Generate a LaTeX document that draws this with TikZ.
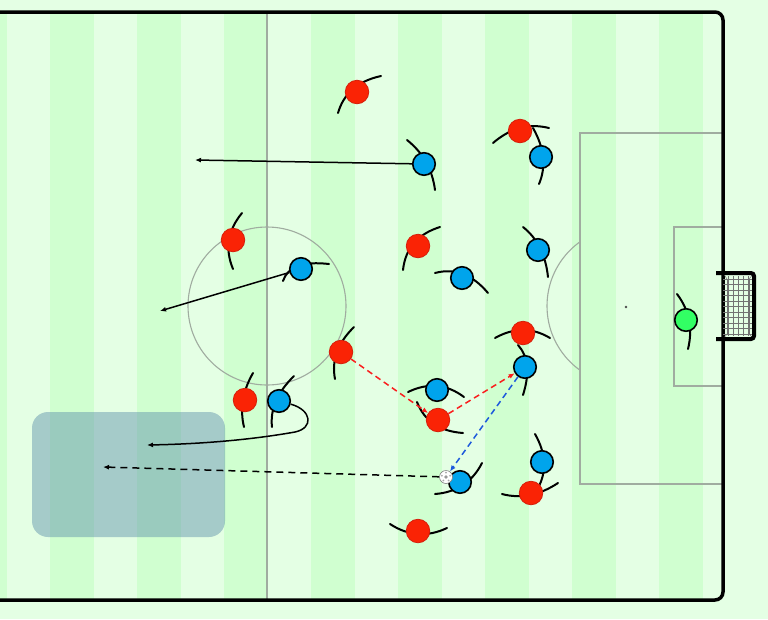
\documentclass[tikz,border=0pt]{standalone}
\usetikzlibrary{arrows.meta,calc}
\definecolor{lightg}{RGB}{228,255,228}
\definecolor{darkg}{RGB}{208,255,208}
\definecolor{pblue}{RGB}{0,164,236}
\definecolor{pred}{RGB}{250,35,5}
\definecolor{predb}{RGB}{215,30,10}
\definecolor{pgreen}{RGB}{50,255,100}
\definecolor{markc}{RGB}{160,172,160}
\definecolor{zone}{RGB}{90,140,170}
\definecolor{passred}{RGB}{250,30,30}
\definecolor{passblue}{RGB}{30,90,220}
\tikzset{
  bluepl/.style={circle, fill=pblue, draw=black, line width=1.6pt, minimum size=22.5pt, inner sep=0pt},
  redpl/.style={circle, fill=pred, draw=predb, line width=0.8pt, minimum size=23.5pt, inner sep=0pt},
  greenpl/.style={circle, fill=pgreen, draw=black, line width=1.6pt, minimum size=22.5pt, inner sep=0pt},
  ballnode/.style={circle, fill=white, draw=gray, line width=0.6pt, minimum size=13pt, inner sep=0pt},
  bodyline/.style={line width=2pt, line cap=round, black},
  markline/.style={draw=markc, line width=1.1pt},
  run/.style={line width=1.5pt, -{Latex[length=6pt,width=5pt]}},
  dribble/.style={line width=1.5pt, dash pattern=on 7pt off 5pt, -{Latex[length=6pt,width=5pt]}},
  passr/.style={line width=1.5pt, passred, dash pattern=on 6pt off 4pt, -{Latex[length=6pt,width=5pt]}},
  passb/.style={line width=1.5pt, passblue, dash pattern=on 6pt off 4pt, -{Latex[length=6pt,width=5pt]}},
}
% smooth (quadratic) body arc from #1 through #2 to #3
\newcommand{\bodyarc}[3]{\draw[bodyline] #1 .. controls ($1.33333*#2-0.33333*#3$) and ($1.33333*#2-0.33333*#1$) .. #3;}
\begin{document}
\begin{tikzpicture}[x=1pt,y=-1pt]
\useasboundingbox (0,0) rectangle (768,619);
\fill[lightg] (0,0) rectangle (768,619);
% stripes
\begin{scope}
  \clip[rounded corners=8] (-20,12) rectangle (723,600);
  \foreach \x in {-37,50,...,659} \fill[darkg] (\x,0) rectangle ++(44,619);
\end{scope}
% markings
\draw[markline] (267,12) -- (267,600);
\draw[markline] (267,306) circle[radius=79];
\draw[markline] (580,133) rectangle (723,484);
\draw[markline] (674,227) rectangle (723,386);
\fill[black!70] (626,307) circle[radius=1.3];
\begin{scope}
  \clip (0,0) rectangle (580,619);
  \draw[markline] (626,306) circle[radius=79];
\end{scope}
% zone
\fill[zone, fill opacity=0.45, rounded corners=16] (32,412) rectangle (225,537);
% border
\draw[line width=3.5pt, rounded corners=8] (-20,12) rectangle (723,600);
% goal net
\begin{scope}[black!55, line width=0.45pt]
  \foreach \x in {728,733,738,743,748} \draw (\x,276) -- (\x,336);
  \foreach \y in {279,284.5,290,295.5,301,306.5,312,317.5,323,328.5,334} \draw (723,\y) -- (753,\y);
  \draw (727,279) rectangle (749,334);
  \draw (723,273) -- (727,279) (754,273) -- (749,279) (723,339) -- (727,334) (754,339) -- (749,334);
\end{scope}
\draw[line width=4pt, rounded corners=3] (716,273) -- (754,273) -- (754,339) -- (716,339);
% body arcs
\bodyarc{(338,113)}{(353,89)}{(381,76)}
\bodyarc{(493,143)}{(520,128)}{(549,128)}
\bodyarc{(242,213)}{(229,240)}{(233,269)}
\bodyarc{(354,327)}{(337,352)}{(335,379)}
\bodyarc{(417,402)}{(434,424)}{(463,433)}
\bodyarc{(495,338)}{(523,330)}{(550,338)}
\bodyarc{(502,494)}{(530,495)}{(558,483)}
\bodyarc{(390,524)}{(418,534)}{(447,528)}
\bodyarc{(253,373)}{(243,400)}{(244,427)}
\bodyarc{(440,227)}{(414,243)}{(403,270)}
\bodyarc{(407,140)}{(426,162)}{(435,190)}
\bodyarc{(533,128)}{(543,157)}{(539,184)}
\bodyarc{(329,264)}{(298,266)}{(283,281)}
\bodyarc{(435,273)}{(463,274)}{(488,293)}
\bodyarc{(408,392)}{(437,386)}{(464,397)}
\bodyarc{(523,227)}{(540,248)}{(548,277)}
\bodyarc{(518,345)}{(527,366)}{(523,395)}
\bodyarc{(482,463)}{(463,485)}{(435,494)}
\bodyarc{(535,434)}{(544,462)}{(538,488)}
\bodyarc{(294,376)}{(276,401)}{(272,427)}
\bodyarc{(677,294)}{(689,320)}{(688,349)}
% players
\node[redpl] (R1) at (357,92) {};
\node[redpl] (R2) at (520,131) {};
\node[redpl] (R3) at (233,240) {};
\node[redpl] (R4) at (341,352) {};
\node[redpl] (R5) at (438,420) {};
\node[redpl] (R6) at (523,333) {};
\node[redpl] (R7) at (531,493) {};
\node[redpl] (R8) at (418,531) {};
\node[redpl] (R9) at (245,400) {};
\node[redpl] (R10) at (418,246) {};
\node[bluepl] (B1) at (424,164) {};
\node[bluepl] (B2) at (541,157) {};
\node[bluepl] (B3) at (301,269) {};
\node[bluepl] (B4) at (462,278) {};
\node[bluepl] (B5) at (437,390) {};
\node[bluepl] (B6) at (538,250) {};
\node[bluepl] (B7) at (525,367) {};
\node[bluepl] (B8) at (460,482) {};
\node[bluepl] (B9) at (542,462) {};
\node[bluepl] (B10) at (279,401) {};
\node[greenpl] (GK) at (686,320) {};
% ball
\node[ballnode] (ball) at (446,477) {};
\fill[gray!80] (ball.center) circle[radius=1.8];
\foreach \a in {90,162,234,306,18} \fill[gray!70] ($(ball.center)+(\a:4.3pt)$) circle[radius=1];
% free ends
\coordinate (a1) at (195,160);
\coordinate (a2) at (160,311);
\coordinate (a3) at (147,445);
\coordinate (a4) at (103,467);
% runs
\draw[run] (B1) -- (a1);
\draw[run] (B3) -- (a2);
\draw[run] (B10.-15) .. controls (312,410) and (314,428) .. (295,432) .. controls (250,440) and (200,444) .. (a3);
\draw[dribble] (ball) -- (a4);
% passes
\draw[passr] (R4) -- (R5);
\draw[passr] (R5) -- (B7);
\draw[passb] (B7) -- (ball);
\end{tikzpicture}
\end{document}
